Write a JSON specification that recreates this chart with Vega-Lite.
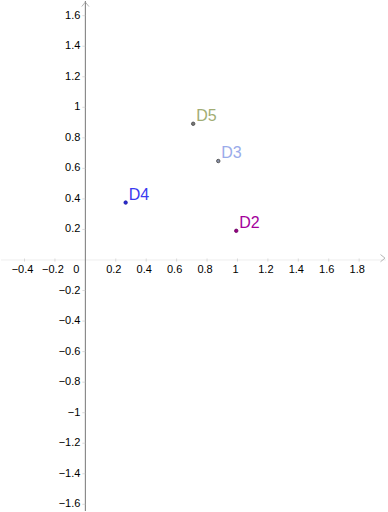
{
  "$schema": "https://vega.github.io/schema/vega-lite/v6.json",
  "width": 388,
  "height": 512,
  "autosize": {"type": "fit", "contains": "padding"},
  "padding": 0,
  "background": "white",
  "config": {"view": {"stroke": null}, "text": {"font": "Liberation Sans"}},
  "datasets": {
    "points": [
      {"name": "D2", "x": 0.992, "y": 0.191},
      {"name": "D3", "x": 0.874, "y": 0.648},
      {"name": "D4", "x": 0.265, "y": 0.376},
      {"name": "D5", "x": 0.709, "y": 0.892}
    ],
    "xticks": [
      {"v": -0.4, "label": "−0.4"},
      {"v": -0.2, "label": "−0.2"},
      {"v": 0.2, "label": "0.2"},
      {"v": 0.4, "label": "0.4"},
      {"v": 0.6, "label": "0.6"},
      {"v": 0.8, "label": "0.8"},
      {"v": 1.0, "label": "1"},
      {"v": 1.2, "label": "1.2"},
      {"v": 1.4, "label": "1.4"},
      {"v": 1.6, "label": "1.6"},
      {"v": 1.8, "label": "1.8"}
    ],
    "yticks": [
      {"v": 1.6, "label": "1.6"},
      {"v": 1.4, "label": "1.4"},
      {"v": 1.2, "label": "1.2"},
      {"v": 1.0, "label": "1"},
      {"v": 0.8, "label": "0.8"},
      {"v": 0.6, "label": "0.6"},
      {"v": 0.4, "label": "0.4"},
      {"v": 0.2, "label": "0.2"},
      {"v": -0.2, "label": "−0.2"},
      {"v": -0.4, "label": "−0.4"},
      {"v": -0.6, "label": "−0.6"},
      {"v": -0.8, "label": "−0.8"},
      {"v": -1.0, "label": "−1"},
      {"v": -1.2, "label": "−1.2"},
      {"v": -1.4, "label": "−1.4"},
      {"v": -1.6, "label": "−1.6"}
    ],
    "origin": [{"label": "0"}]
  },
  "layer": [
    {
      "data": {"name": "origin"},
      "mark": {"type": "rule", "color": "#eeeeee", "strokeWidth": 1},
      "encoding": {
        "y": {"datum": 0, "type": "quantitative", "scale": {"domain": [-1.6438, 1.696], "nice": false, "zero": false}, "axis": null}
      }
    },
    {
      "data": {"name": "origin"},
      "mark": {"type": "rule", "color": "#777777", "strokeWidth": 1},
      "encoding": {
        "x": {"datum": 0, "type": "quantitative", "scale": {"domain": [-0.5545, 1.9765], "nice": false, "zero": false}, "axis": null}
      }
    },
    {
      "data": {"name": "xticks"},
      "mark": {"type": "tick", "orient": "vertical", "color": "#cccccc", "size": 3, "thickness": 1},
      "encoding": {
        "x": {"field": "v", "type": "quantitative", "scale": {"domain": [-0.5545, 1.9765], "nice": false, "zero": false}, "axis": null},
        "y": {"datum": 0, "type": "quantitative", "scale": {"domain": [-1.6438, 1.696], "nice": false, "zero": false}, "axis": null}
      }
    },
    {
      "data": {"name": "yticks"},
      "mark": {"type": "tick", "orient": "horizontal", "color": "#cccccc", "size": 3, "thickness": 1, "xOffset": -1.5},
      "encoding": {
        "x": {"datum": 0, "type": "quantitative", "scale": {"domain": [-0.5545, 1.9765], "nice": false, "zero": false}, "axis": null},
        "y": {"field": "v", "type": "quantitative", "scale": {"domain": [-1.6438, 1.696], "nice": false, "zero": false}, "axis": null}
      }
    },
    {
      "data": {"name": "xticks"},
      "mark": {"type": "text", "align": "center", "baseline": "middle", "dy": 10.5, "dx": -2, "fontSize": 11, "color": "#000000"},
      "encoding": {
        "x": {"field": "v", "type": "quantitative", "scale": {"domain": [-0.5545, 1.9765], "nice": false, "zero": false}, "axis": null},
        "y": {"datum": 0, "type": "quantitative", "scale": {"domain": [-1.6438, 1.696], "nice": false, "zero": false}, "axis": null},
        "text": {"field": "label"}
      }
    },
    {
      "data": {"name": "origin"},
      "mark": {"type": "text", "align": "right", "baseline": "middle", "dy": 10.5, "dx": -6, "fontSize": 11, "color": "#000000"},
      "encoding": {
        "x": {"datum": 0, "type": "quantitative", "scale": {"domain": [-0.5545, 1.9765], "nice": false, "zero": false}, "axis": null},
        "y": {"datum": 0, "type": "quantitative", "scale": {"domain": [-1.6438, 1.696], "nice": false, "zero": false}, "axis": null},
        "text": {"field": "label"}
      }
    },
    {
      "data": {"name": "yticks"},
      "mark": {"type": "text", "align": "right", "baseline": "middle", "dx": -5, "fontSize": 11, "color": "#000000"},
      "encoding": {
        "x": {"datum": 0, "type": "quantitative", "scale": {"domain": [-0.5545, 1.9765], "nice": false, "zero": false}, "axis": null},
        "y": {"field": "v", "type": "quantitative", "scale": {"domain": [-1.6438, 1.696], "nice": false, "zero": false}, "axis": null},
        "text": {"field": "label"}
      }
    },
    {
      "data": {"name": "origin"},
      "mark": {"type": "point", "shape": "M-1.5,-1.2L0,0L-1.5,1.2", "filled": false, "stroke": "#999999", "strokeWidth": 1, "size": 36},
      "encoding": {
        "x": {"datum": 1.97, "type": "quantitative", "scale": {"domain": [-0.5545, 1.9765], "nice": false, "zero": false}, "axis": null},
        "y": {"datum": 0.012, "type": "quantitative", "scale": {"domain": [-1.6438, 1.696], "nice": false, "zero": false}, "axis": null}
      }
    },
    {
      "data": {"name": "origin"},
      "mark": {"type": "point", "shape": "M-1.2,1.5L0,0L1.2,1.5", "filled": false, "stroke": "#999999", "strokeWidth": 1, "size": 36},
      "encoding": {
        "x": {"datum": 0, "type": "quantitative", "scale": {"domain": [-0.5545, 1.9765], "nice": false, "zero": false}, "axis": null},
        "y": {"datum": 1.689, "type": "quantitative", "scale": {"domain": [-1.6438, 1.696], "nice": false, "zero": false}, "axis": null}
      }
    },
    {
      "data": {"name": "points"},
      "mark": {"type": "point", "shape": "circle", "filled": true, "size": 12, "strokeWidth": 0.8, "opacity": 1},
      "encoding": {
        "x": {"field": "x", "type": "quantitative", "scale": {"domain": [-0.5545, 1.9765], "nice": false, "zero": false}, "axis": null},
        "y": {"field": "y", "type": "quantitative", "scale": {"domain": [-1.6438, 1.696], "nice": false, "zero": false}, "axis": null},
        "fill": {"field": "name", "type": "nominal", "scale": {"domain": ["D2", "D3", "D4", "D5"], "range": ["#990080", "#8890a8", "#2a2ad8", "#777777"]}, "legend": null},
        "stroke": {"field": "name", "type": "nominal", "scale": {"domain": ["D2", "D3", "D4", "D5"], "range": ["#660060", "#444444", "#1a1a99", "#444444"]}, "legend": null}
      }
    },
    {
      "data": {"name": "points"},
      "mark": {"type": "text", "align": "left", "baseline": "alphabetic", "dx": 3, "dy": -3, "fontSize": 16},
      "encoding": {
        "x": {"field": "x", "type": "quantitative", "scale": {"domain": [-0.5545, 1.9765], "nice": false, "zero": false}, "axis": null},
        "y": {"field": "y", "type": "quantitative", "scale": {"domain": [-1.6438, 1.696], "nice": false, "zero": false}, "axis": null},
        "color": {"field": "name", "type": "nominal", "scale": {"domain": ["D2", "D3", "D4", "D5"], "range": ["#a3009c", "#9aabea", "#3a3af0", "#a2ad74"]}, "legend": null},
        "text": {"field": "name"}
      }
    }
  ]
}
